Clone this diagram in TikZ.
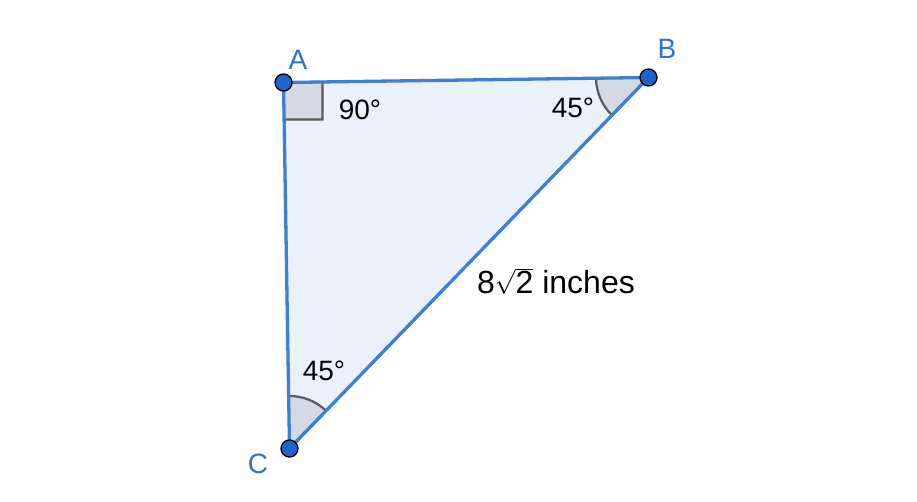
\documentclass[tikz,border=0pt]{standalone}
\usepackage{fontspec}
\setmainfont{Liberation Sans}
\definecolor{edgeblue}{HTML}{3D7FD4}
\definecolor{fillblue}{HTML}{EAF1FA}
\definecolor{ptblue}{HTML}{1F63CF}
\definecolor{lblblue}{HTML}{2F72CC}
\definecolor{angfill}{HTML}{D3DAE3}
\definecolor{anggray}{HTML}{5A5A5A}
\begin{document}
\begin{tikzpicture}[x=1pt,y=-1pt,
  pt/.style={circle,draw=black,fill=ptblue,line width=1.3pt,inner sep=0pt,minimum size=17pt},
  vlabel/.style={text=lblblue,font=\fontsize{28}{32}\selectfont,inner sep=0pt},
  anglabel/.style={text=black,font=\fontsize{28}{32}\selectfont,inner sep=0pt},
  edge/.style={draw=edgeblue,line width=3.3pt,line join=round}]
\useasboundingbox (0,0) rectangle (917,502);
\coordinate (A) at (283.5,82.5);
\coordinate (B) at (648.5,77.5);
\coordinate (C) at (289.5,448.5);
\fill[fillblue] (A) -- (B) -- (C) -- cycle;
% right angle square at A
\draw[anggray,fill=angfill,line width=2.2pt] (A) -- (322.5,82) -- (322.5,119.5) -- (284,119.5) -- cycle;
% angle at B
\fill[angfill] (B) -- (596,78.2) arc[start angle=179.2,end angle=134.4,radius=52.5] -- cycle;
\draw[anggray,line width=2.2pt] (596,78.2) arc[start angle=179.2,end angle=134.4,radius=52.5];
% angle at C
\fill[angfill] (C) -- (288.9,396) arc[start angle=-90.7,end angle=-45.9,radius=52.5] -- cycle;
\draw[anggray,line width=2.2pt] (288.9,396) arc[start angle=-90.7,end angle=-45.9,radius=52.5];
\draw[edge] (A) -- (B) -- (C) -- cycle;
\node[pt] (pA) at (A) {};
\node[pt] (pB) at (B) {};
\node[pt] (pC) at (C) {};
\node[vlabel] (lA) at (298,60) {A};
\node[vlabel] (lB) at (667,49) {B};
\node[vlabel] (lC) at (258,464) {C};
\node[anglabel] (a90) at (360,110) {90°};
\node[anglabel] (a45b) at (573,108) {45°};
\node[anglabel] (a45c) at (324,371) {45°};
\node[anglabel,font=\fontsize{32}{36}\selectfont] (hyp) at (556,281) {8$\sqrt{\mbox{2}}$ inches};
\end{tikzpicture}
\end{document}
